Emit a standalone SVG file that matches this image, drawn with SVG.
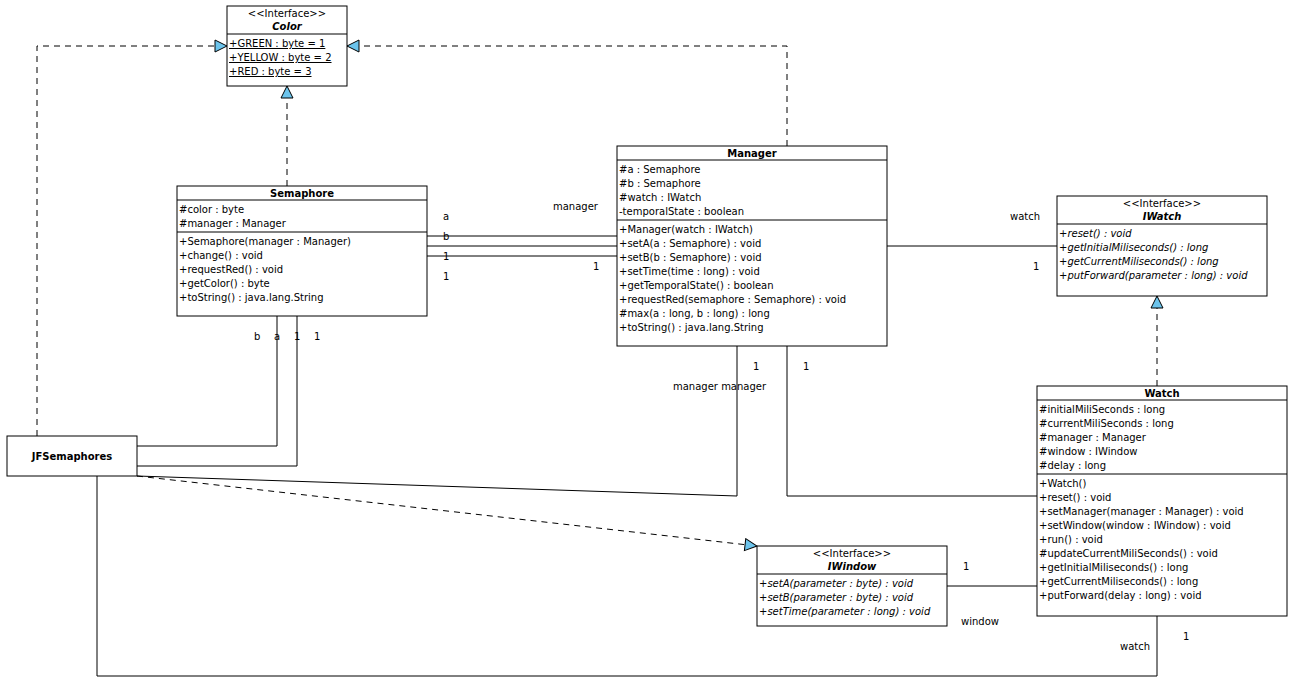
<svg xmlns="http://www.w3.org/2000/svg" width="1307" height="689" viewBox="0 0 1307 689">
<style>
text{font-family:"DejaVu Sans","Liberation Sans",sans-serif;font-size:10px;fill:#000}
.b{font-weight:bold}.i{font-style:italic}.u{text-decoration:underline}
.box{fill:#fff;stroke:#000;stroke-width:1}
.ln{fill:none;stroke:#000;stroke-width:1}
.ds{fill:none;stroke:#000;stroke-width:1;stroke-dasharray:6,5}
</style>
<defs>
<marker id="tri" markerWidth="14" markerHeight="14" refX="13" refY="7" orient="auto" markerUnits="userSpaceOnUse">
<path d="M1,1 L13,7 L1,13 Z" fill="#6cc4ec" stroke="#000"/>
</marker>
</defs>
<rect width="1307" height="689" fill="#fff"/>
<g id="connectors">
<path class="ds" d="M37,436 V46 H227" marker-end="url(#tri)"/>
<path class="ds" d="M787,146 V46 H347" marker-end="url(#tri)"/>
<path class="ds" d="M287,186 V86" marker-end="url(#tri)"/>
<path class="ds" d="M1157,386 V296" marker-end="url(#tri)"/>
<path class="ds" d="M137,476 L757,546" marker-end="url(#tri)"/>
<path class="ln" d="M427,236 H617 M427,246 H617 M427,256 H617"/>
<path class="ln" d="M277,316 V446 H137 M297,316 V466 H137"/>
<path class="ln" d="M137,476 L737,496 V346"/>
<path class="ln" d="M787,346 V496 H1037"/>
<path class="ln" d="M887,246 H1057"/>
<path class="ln" d="M947,586 H1037"/>
<path class="ln" d="M97,476 V676 H1157 V616"/>
<text x="443" y="220">a</text><text x="443" y="240">b</text><text x="443" y="260">1</text><text x="443" y="280">1</text>
<text x="553" y="210">manager</text><text x="593" y="270">1</text>
<text x="254" y="340">b</text><text x="274" y="340">a</text><text x="294" y="340">1</text><text x="314" y="340">1</text>
<text x="753" y="370">1</text><text x="673" y="390">manager manager</text><text x="803" y="370">1</text>
<text x="1010" y="220">watch</text><text x="1033" y="270">1</text>
<text x="963" y="570">1</text><text x="961" y="625">window</text>
<text x="1120" y="650">watch</text><text x="1183" y="640">1</text>
</g>
<g id="Color">
<rect class="box" x="227" y="6" width="120" height="80"/>
<line class="ln" x1="227" y1="34" x2="347" y2="34"/>
<text x="287" y="17" text-anchor="middle">&lt;&lt;Interface&gt;&gt;</text>
<text x="287" y="30" text-anchor="middle" class="b i">Color</text>
<text x="229" y="47" class="u">+GREEN : byte = 1</text>
<text x="229" y="61" class="u">+YELLOW : byte = 2</text>
<text x="229" y="75" class="u">+RED : byte = 3</text>
</g>
<g id="Semaphore">
<rect class="box" x="177" y="186" width="250" height="130"/>
<line class="ln" x1="177" y1="200" x2="427" y2="200"/>
<line class="ln" x1="177" y1="232" x2="427" y2="232"/>
<text x="302" y="197" text-anchor="middle" class="b">Semaphore</text>
<text x="179" y="213">#color : byte</text>
<text x="179" y="227">#manager : Manager</text>
<text x="179" y="245">+Semaphore(manager : Manager)</text>
<text x="179" y="259">+change() : void</text>
<text x="179" y="273">+requestRed() : void</text>
<text x="179" y="287">+getColor() : byte</text>
<text x="179" y="301">+toString() : java.lang.String</text>
</g>
<g id="Manager">
<rect class="box" x="617" y="146" width="270" height="200"/>
<line class="ln" x1="617" y1="160" x2="887" y2="160"/>
<line class="ln" x1="617" y1="220" x2="887" y2="220"/>
<text x="752" y="157" text-anchor="middle" class="b">Manager</text>
<text x="619" y="173">#a : Semaphore</text>
<text x="619" y="187">#b : Semaphore</text>
<text x="619" y="201">#watch : IWatch</text>
<text x="619" y="215">-temporalState : boolean</text>
<text x="619" y="233">+Manager(watch : IWatch)</text>
<text x="619" y="247">+setA(a : Semaphore) : void</text>
<text x="619" y="261">+setB(b : Semaphore) : void</text>
<text x="619" y="275">+setTime(time : long) : void</text>
<text x="619" y="289">+getTemporalState() : boolean</text>
<text x="619" y="303">+requestRed(semaphore : Semaphore) : void</text>
<text x="619" y="317">#max(a : long, b : long) : long</text>
<text x="619" y="331">+toString() : java.lang.String</text>
</g>
<g id="IWatch">
<rect class="box" x="1057" y="196" width="210" height="100"/>
<line class="ln" x1="1057" y1="224" x2="1267" y2="224"/>
<text x="1162" y="207" text-anchor="middle">&lt;&lt;Interface&gt;&gt;</text>
<text x="1162" y="220" text-anchor="middle" class="b i">IWatch</text>
<text x="1059" y="237" class="i">+reset() : void</text>
<text x="1059" y="251" class="i">+getInitialMiliseconds() : long</text>
<text x="1059" y="265" class="i">+getCurrentMiliseconds() : long</text>
<text x="1059" y="279" class="i">+putForward(parameter : long) : void</text>
</g>
<g id="Watch">
<rect class="box" x="1037" y="386" width="250" height="230"/>
<line class="ln" x1="1037" y1="400" x2="1287" y2="400"/>
<line class="ln" x1="1037" y1="474" x2="1287" y2="474"/>
<text x="1162" y="397" text-anchor="middle" class="b">Watch</text>
<text x="1039" y="413">#initialMiliSeconds : long</text>
<text x="1039" y="427">#currentMiliSeconds : long</text>
<text x="1039" y="441">#manager : Manager</text>
<text x="1039" y="455">#window : IWindow</text>
<text x="1039" y="469">#delay : long</text>
<text x="1039" y="487">+Watch()</text>
<text x="1039" y="501">+reset() : void</text>
<text x="1039" y="515">+setManager(manager : Manager) : void</text>
<text x="1039" y="529">+setWindow(window : IWindow) : void</text>
<text x="1039" y="543">+run() : void</text>
<text x="1039" y="557">#updateCurrentMiliSeconds() : void</text>
<text x="1039" y="571">+getInitialMiliseconds() : long</text>
<text x="1039" y="585">+getCurrentMiliseconds() : long</text>
<text x="1039" y="599">+putForward(delay : long) : void</text>
</g>
<g id="IWindow">
<rect class="box" x="757" y="546" width="190" height="80"/>
<line class="ln" x1="757" y1="574" x2="947" y2="574"/>
<text x="852" y="557" text-anchor="middle">&lt;&lt;Interface&gt;&gt;</text>
<text x="852" y="570" text-anchor="middle" class="b i">IWindow</text>
<text x="759" y="587" class="i">+setA(parameter : byte) : void</text>
<text x="759" y="601" class="i">+setB(parameter : byte) : void</text>
<text x="759" y="615" class="i">+setTime(parameter : long) : void</text>
</g>
<g id="JFSemaphores">
<rect class="box" x="7" y="436" width="130" height="40"/>
<text x="72" y="460" text-anchor="middle" class="b">JFSemaphores</text>
</g>
</svg>
